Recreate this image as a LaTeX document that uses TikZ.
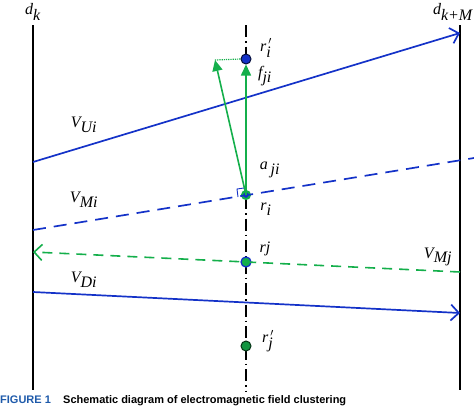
\documentclass[tikz,border=0pt]{standalone}
\usepackage{fontspec}
\setmainfont{Liberation Serif}
\newfontfamily\capfont{Liberation Sans}
\usetikzlibrary{arrows.meta}
\definecolor{lineblue}{RGB}{20,50,200}
\definecolor{linegreen}{RGB}{20,175,75}
\definecolor{capblue}{RGB}{30,90,170}
\newcommand{\lab}[2]{$\textit{#1}_{\textit{#2}}$}
\newcommand{\labp}[2]{$\textit{#1}_{\textit{#2}}^{\,\prime}$}
\begin{document}
\begin{tikzpicture}
    [x=1pt,y=-1pt,inner sep=1pt,font=\fontsize{16}{18}\selectfont,
     dot/.style={circle,draw,minimum size=10pt,inner sep=0pt},
     blueline/.style={lineblue,line width=1.7pt},
     greenline/.style={linegreen,line width=1.6pt}]
    \clip (0,0) rectangle (474,405);
    % borders
    \node (dk) at (33,12) {\lab{d}{k}};
    \node (dkm) at (474,12) [anchor=east] {\lab{d}{k+M}};
    \coordinate (lt) at (33,25);
    \coordinate (lb) at (33,390);
    \coordinate (rt) at (460,25);
    \coordinate (rb) at (460,390);
    \coordinate (ct) at (246,25);
    \coordinate (cb) at (246,392);
    \draw [line width=1.4pt] (lt) -- (lb);
    \draw [line width=1.4pt] (rt) -- (rb);
    \draw [line width=1.3pt,dash pattern=on 12pt off 4pt on 1.5pt off 4pt] (ct) -- (cb);
    % particles
    \node (rip) at (246,59) [dot,fill=lineblue,draw=black!70!lineblue,line width=1pt] {};
    \node (ri) at (246,195) [dot,fill=lineblue,draw=linegreen,line width=2pt,minimum size=8pt] {};
    \node (rj) at (246,262) [dot,fill=linegreen,draw=lineblue,line width=1.3pt] {};
    \node (rjp) at (246,346) [dot,fill=linegreen!85!black,draw=black!70!linegreen,line width=1pt] {};
    \node at (266,48) {\labp{r}{i}};
    \node at (265,76) {\lab{f}{ji}};
    \node at (270,170) {\lab{a}{\,ji}};
    \node at (266,209) {\lab{r}{i}};
    \node at (265,249) {\textit{rj}};
    \node at (268,341) {\labp{r}{j}};
    % velocities
    \coordinate (ua) at (33,162);
    \coordinate (ub) at (460,33);
    \coordinate (ma) at (33,230);
    \coordinate (mb) at (474,158);
    \coordinate (ja) at (460,272);
    \coordinate (jb) at (33,252);
    \coordinate (da) at (33,292);
    \coordinate (db) at (460,313);
    \draw [blueline,-{Straight Barb[length=8pt,width=16pt]}] (ua) to (ub);
    \draw [blueline,dash pattern=on 13pt off 8pt] (ma) to (mb);
    \draw [greenline,dash pattern=on 10pt off 7pt,-{Straight Barb[length=8pt,width=16pt]}] (ja) to (jb);
    \draw [blueline,-{Straight Barb[length=8pt,width=16pt]}] (da) to (db);
    \node at (84,125) {\lab{V}{Ui}};
    \node at (84,200) {\lab{V}{Mi}};
    \node at (438,257) {\lab{V}{Mj}};
    \node at (84,280) {\lab{V}{Di}};
    % forces
    \coordinate (tip) at (215,60);
    \draw [greenline,-{Triangle[length=11pt,width=10pt]}] (ri.center) to (rip.south);
    \draw [greenline,-{Triangle[length=11pt,width=10pt]}] (ri.center) to (tip);
    \draw [linegreen,densely dotted,line width=1.2pt] (tip) to (rip.west);
    \draw [lineblue,line width=0.9pt] (238,197) -- (237,189) -- (244,188);
    % caption
    \node at (0,403) [anchor=base west,inner sep=0pt,font=\capfont\bfseries\fontsize{11}{13}\selectfont,text=capblue] {FIGURE 1};
    \node at (63,403) [anchor=base west,inner sep=0pt,font=\capfont\bfseries\fontsize{11}{13}\selectfont] {Schematic diagram of electromagnetic field clustering};
\end{tikzpicture}
\end{document}
